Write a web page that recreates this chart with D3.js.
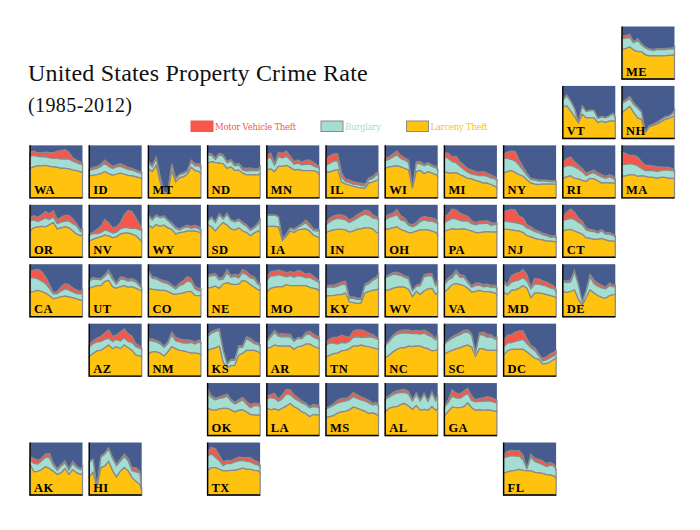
<!DOCTYPE html>
<html>
<head>
<meta charset="utf-8">
<script src="https://cdn.jsdelivr.net/npm/d3@7"></script>
<style>
html,body{margin:0;padding:0;background:#fff}
svg{display:block}
</style>
</head>
<body>
<svg id="chart" width="700" height="530"></svg>
<script>
// Sampled years along each small multiple
const years = [1985,1987,1989,1991,1993,1995,1997,1999,2001,2003,2005,2007,2009,2011,2012];
const seriesNames = ["Larceny Theft","Burglary","Motor Vehicle Theft"];
const seriesColors = ["#fec20f","#a4ddd2","#f6574a"];
// Tile-grid map: one string per row, state codes per column ("" = empty tile)
const tileRows = [
 ["","","","","","","","","","","ME"],
 ["","","","","","","","","","VT","NH"],
 ["WA","ID","MT","ND","MN","IL","WI","MI","NY","RI","MA"],
 ["OR","NV","WY","SD","IA","IN","OH","PA","NJ","CT"],
 ["CA","UT","CO","NE","MO","KY","WV","VA","MD","DE"],
 ["","AZ","NM","KS","AR","TN","NC","SC","DC"],
 ["","","","OK","LA","MS","AL","GA"],
 ["AK","HI","","TX","","","","","FL"]
];
// Rates as index points (each state's panel = 0..100)
const larceny = {
ME:[56,58,61,55,52,52,46,44,44,44,44,44,45,45,47],
VT:[60,62,52,42,29,46,39,39,39,30,33,30,33,33,33],
NH:[49,55,61,49,39,36,11,22,25,27,31,36,38,41,43],
WA:[56,59,61,61,62,60,59,58,56,56,55,53,52,49,49],
ID:[42,43,44,46,50,46,43,45,47,45,43,42,40,38,37],
MT:[55,50,62,30,8,8,52,30,38,40,45,58,52,50,46],
ND:[66,69,67,66,65,56,59,52,53,47,44,44,44,44,46],
MN:[53,55,50,60,60,62,58,53,54,52,52,52,52,49,44],
IL:[49,49,52,54,30,26,24,22,20,19,18,28,30,33,35],
WI:[56,59,60,61,59,56,53,18,50,52,46,50,47,44,41],
MI:[50,47,47,48,44,41,37,36,33,31,28,28,25,22,19],
NY:[47,50,52,48,44,41,34,28,26,25,26,26,26,26,25],
RI:[37,40,42,37,36,33,31,37,36,32,28,29,28,28,28],
MA:[41,42,44,44,41,42,41,39,39,37,39,39,37,37,36],
OR:[50,56,58,59,58,62,66,54,56,58,56,50,44,41,44],
NV:[31,34,37,39,42,41,37,39,44,46,46,44,41,34,29],
WY:[61,56,62,59,61,56,53,44,47,48,50,50,50,48,45],
SD:[62,58,50,59,66,61,54,52,56,50,47,41,46,50,48],
IA:[59,59,59,58,32,40,50,47,52,53,54,50,42,39,37],
IN:[47,50,52,53,53,52,48,50,53,54,56,56,54,47,47],
OH:[53,54,56,58,53,50,47,47,50,52,52,52,50,47,42],
PA:[50,52,54,53,53,54,52,50,47,47,48,49,48,48,48],
NJ:[53,53,52,51,50,47,41,39,36,34,33,31,31,30,29],
CT:[50,52,53,50,47,44,37,36,34,34,36,33,31,31,29],
CA:[47,48,50,48,45,40,34,36,38,39,38,36,34,31,31],
UT:[54,57,59,59,67,69,57,54,57,59,56,57,54,51,48],
CO:[53,52,51,50,50,48,44,42,44,45,48,48,40,40,40],
NE:[54,56,58,54,62,65,62,61,62,69,67,61,56,51,50],
MO:[47,54,56,57,57,61,59,59,59,59,59,56,54,52,49],
KY:[39,40,40,42,42,45,28,27,25,26,45,48,50,51,54],
WV:[50,51,54,56,57,56,52,38,48,42,49,53,54,42,45],
VA:[47,53,61,63,61,59,54,47,48,50,48,48,47,45,42],
MD:[47,42,50,51,54,59,54,36,45,45,44,42,40,38,36],
DE:[48,46,48,51,33,22,36,51,45,40,37,35,40,42,42],
AZ:[37,43,48,49,54,59,52,56,52,59,54,49,40,38,37],
NM:[43,46,46,44,38,46,56,52,49,48,46,44,44,43,41],
KS:[49,52,54,57,26,16,20,20,40,43,49,49,49,46,43],
AR:[52,55,59,57,57,57,57,51,56,57,61,61,57,54,52],
TN:[36,40,43,44,48,49,52,57,57,59,57,56,54,52,51],
NC:[34,40,46,51,54,54,57,56,57,57,54,52,48,49,52],
SC:[42,46,49,52,54,57,59,55,38,52,52,49,49,49,49],
DC:[40,48,51,51,51,51,46,40,34,32,23,24,27,32,34],
OK:[52,49,48,51,52,52,49,45,48,49,45,40,39,39,38],
LA:[52,49,51,48,52,56,61,55,51,45,42,36,40,39,39],
MS:[34,36,38,43,45,46,49,54,52,49,46,42,43,40,37],
AL:[45,52,54,55,59,61,56,50,57,48,50,48,55,48,51],
GA:[37,46,54,53,53,55,62,53,48,49,48,49,48,46,46],
AK:[58,44,45,48,54,50,45,39,42,50,39,48,42,39,41],
HI:[34,43,13,52,55,64,46,34,45,52,46,33,26,20,8],
TX:[47,52,52,49,46,46,47,47,49,51,49,49,47,46,42],
FL:[41,44,46,47,49,47,46,46,43,42,41,39,38,36,32]
};
const burglary = {
ME:[21,20,18,14,22,13,13,12,10,12,12,12,12,12,13],
VT:[12,19,19,15,1,15,12,14,14,8,8,9,10,14,5],
NH:[18,16,15,16,19,14,0,2,2,3,4,4,4,6,10],
WA:[23,22,18,17,16,16,16,17,18,18,19,17,15,15,15],
ID:[10,11,12,14,16,14,13,14,13,12,11,11,10,9,10],
MT:[12,9,12,10,2,2,11,6,6,6,5,10,9,11,11],
ND:[16,12,6,16,14,11,11,9,10,6,7,8,8,8,11],
MN:[21,22,12,19,16,17,15,11,12,11,12,12,9,9,12],
IL:[13,17,18,16,10,5,5,4,5,5,5,6,7,11,9],
WI:[15,14,18,21,16,16,14,1,15,13,15,14,13,13,12],
MI:[28,28,22,19,16,13,12,9,11,11,15,13,13,14,14],
NY:[28,25,21,22,18,12,9,7,8,7,6,6,5,5,5],
RI:[21,21,20,22,19,17,11,9,12,11,12,8,12,9,5],
MA:[23,22,21,20,20,14,11,13,13,13,13,14,16,15,14],
OR:[19,15,10,12,17,10,11,10,11,11,13,14,16,8,7],
NV:[11,11,8,8,10,9,9,9,10,11,10,11,14,18,21],
WY:[18,15,17,16,16,14,10,11,5,8,8,5,7,6,6],
SD:[6,17,16,22,7,21,16,15,14,14,12,10,10,13,21],
IA:[21,21,21,19,2,3,5,5,5,8,12,8,9,11,13],
IN:[15,18,20,21,20,19,18,20,21,25,26,24,21,26,25],
OH:[18,22,22,23,18,19,14,11,11,16,19,17,19,19,22],
PA:[16,18,20,20,17,15,17,14,15,17,16,16,13,14,15],
NJ:[16,15,15,15,14,15,15,14,13,13,10,10,7,9,9],
CT:[20,20,21,22,20,18,15,14,15,12,14,11,13,10,10],
CA:[27,26,22,20,18,14,9,8,11,14,13,11,10,12,15],
UT:[13,15,12,11,10,16,14,8,15,12,12,12,12,7,6],
CO:[33,21,21,18,15,15,14,11,15,17,20,18,13,9,10],
NE:[22,22,21,16,10,19,13,16,12,15,13,13,16,10,11],
MO:[22,24,22,23,21,15,19,16,19,18,15,19,17,15,15],
KY:[17,17,16,16,19,17,7,8,8,7,14,15,19,22,25],
WV:[24,26,27,24,21,19,20,11,10,17,27,25,24,17,23],
VA:[14,17,13,21,14,16,11,9,11,10,9,10,9,12,11],
MD:[17,16,16,17,16,16,14,17,17,17,16,16,15,15,12],
DE:[19,19,18,34,28,6,12,25,18,18,18,18,19,15,16],
AZ:[18,19,17,17,16,13,14,14,15,14,12,15,16,15,14],
NM:[25,21,19,18,17,16,23,15,16,15,17,20,17,22,21],
KS:[26,30,31,30,22,7,10,10,15,12,23,18,13,14,14],
AR:[14,20,24,19,18,18,18,15,16,14,18,19,17,17,18],
TN:[23,23,20,17,16,14,14,17,18,15,17,19,20,19,19],
NC:[24,26,29,29,28,28,25,25,24,23,28,26,27,20,24],
SC:[19,21,23,24,25,26,25,23,6,27,26,25,26,21,22],
DC:[16,15,13,15,17,19,16,14,15,7,6,7,8,7,10],
OK:[30,23,20,20,20,23,17,15,16,19,15,13,18,18,17],
LA:[18,23,20,17,18,23,17,16,16,17,17,17,15,15,13],
MS:[17,18,20,19,19,20,19,20,19,19,20,20,15,20,18],
AL:[24,21,24,26,23,21,23,16,22,18,29,17,26,18,25],
GA:[17,17,21,19,18,21,18,14,16,16,17,17,17,17,16],
AK:[9,16,14,17,18,21,12,8,13,11,8,12,10,9,11],
HI:[29,24,1,20,23,23,23,22,19,21,19,13,18,22,3],
TX:[28,26,20,16,10,14,13,16,16,15,15,14,12,11,11],
FL:[30,29,29,27,25,20,4,26,21,19,17,15,19,19,15]
};
const motor = {
ME:[4,5,6,2,3,3,2,2,2,2,2,2,2,2,2],
VT:[2,2,1,1,0,1,1,1,1,1,1,1,1,1,1],
NH:[2,3,4,3,2,2,0,0,0,1,1,1,1,1,1],
WA:[8,8,7,8,9,10,11,14,16,18,13,6,5,4,4],
ID:[3,4,4,4,6,6,4,4,5,5,4,3,3,3,3],
MT:[3,3,4,2,0,0,2,2,1,2,2,4,4,4,5],
ND:[3,3,3,3,3,2,3,3,3,4,5,5,3,3,3],
MN:[7,8,4,8,9,10,7,5,6,5,8,8,7,4,3],
IL:[12,14,14,14,8,5,5,5,4,4,3,4,4,4,3],
WI:[4,5,6,7,6,5,5,0,4,4,3,3,3,3,2],
MI:[8,10,9,12,9,8,7,8,6,7,7,6,6,4,3],
NY:[9,12,16,18,10,6,4,2,2,2,2,2,2,2,2],
RI:[8,14,16,10,7,6,5,4,5,5,4,4,4,4,3],
MA:[23,20,16,17,17,13,10,10,9,9,7,5,5,4,3],
OR:[6,8,8,10,12,11,12,8,9,11,11,9,4,3,3],
NV:[2,3,8,12,20,16,10,10,12,24,33,32,20,10,4],
WY:[2,2,2,2,2,2,3,3,2,2,3,4,4,4,3],
SD:[2,2,2,2,2,2,2,2,3,3,3,2,2,3,3],
IA:[1,1,1,1,1,1,1,2,2,3,5,6,3,3,3],
IN:[4,7,7,7,8,7,5,5,7,6,8,9,6,4,3],
OH:[6,6,6,10,8,6,3,4,5,7,7,7,6,6,3],
PA:[12,12,18,17,14,12,9,6,4,5,5,5,5,3,3],
NJ:[18,21,24,24,14,13,6,5,4,3,3,3,3,2,3],
CT:[8,14,18,14,8,7,4,3,3,3,3,3,3,3,2],
CA:[12,15,18,18,13,8,3,4,8,10,10,8,7,5,6],
UT:[3,3,2,3,3,4,4,2,4,4,3,4,3,3,3],
CO:[3,3,3,3,4,4,3,3,5,7,8,7,5,5,4],
NE:[3,3,3,3,4,6,4,4,5,6,6,5,4,3,3],
MO:[6,8,9,9,9,8,8,9,10,9,7,8,6,4,3],
KY:[3,3,4,5,5,6,3,3,3,2,3,3,3,3,3],
WV:[2,3,3,5,4,3,3,1,2,3,4,4,4,1,2],
VA:[3,4,5,5,5,4,3,3,5,4,4,4,4,3,3],
MD:[4,4,12,14,14,15,12,3,11,10,9,8,7,5,3],
DE:[3,3,4,3,1,0,2,5,7,6,5,3,5,3,2],
AZ:[4,6,7,10,12,16,10,8,17,17,15,12,6,4,4],
NM:[3,4,3,3,2,3,5,7,6,6,6,4,4,4,3],
KS:[3,3,3,3,2,1,2,2,3,3,3,5,4,3,3],
AR:[2,3,4,4,6,5,5,2,2,2,4,6,6,5,4],
TN:[6,8,11,13,14,13,8,12,13,14,12,7,5,3,3],
NC:[1,2,3,4,5,6,6,5,6,6,6,6,4,2,4],
SC:[1,2,3,3,4,4,4,3,1,3,6,6,4,3,4],
DC:[12,15,15,18,18,16,9,5,5,4,5,6,7,7,5],
OK:[8,4,3,3,4,4,3,3,4,5,5,6,5,4,4],
LA:[5,6,9,5,8,9,9,7,5,4,3,2,5,4,4],
MS:[1,2,3,5,7,5,6,8,7,6,5,5,4,3,2],
AL:[2,3,4,4,5,6,5,2,3,2,2,2,3,2,2],
GA:[1,5,12,9,8,9,10,9,4,6,7,8,8,6,5],
AK:[5,10,7,5,6,8,4,3,3,4,3,4,3,2,3],
HI:[1,1,0,2,2,3,3,3,4,5,5,6,8,3,1],
TX:[7,13,16,11,7,6,5,6,7,5,7,8,7,6,4],
FL:[6,10,10,10,11,8,0,6,6,7,7,6,5,3,2]
};

const svg = d3.select("#chart");
const panelSize = 52.5;
const colScale = d3.scaleLinear().domain([0,10]).range([30,622]);
const rowScale = d3.scaleLinear().domain([0,7]).range([26.5,442.5]);
const x = d3.scaleLinear().domain([1985,2012]).range([0,panelSize]);
const y = d3.scaleLinear().domain([0,100]).range([panelSize,0]);
const color = d3.scaleOrdinal().domain(seriesNames).range(seriesColors);
const stack = d3.stack().keys(seriesNames);
const area = d3.area().x(d=>x(d.data.year)).y0(d=>y(d[0])).y1(d=>y(d[1]));

tileRows.forEach((row,r)=>row.forEach((st,c)=>{
  if(!st) return;
  const rows = years.map((year,i)=>({
    year,
    "Larceny Theft":larceny[st][i],
    "Burglary":burglary[st][i],
    "Motor Vehicle Theft":motor[st][i]
  }));
  const g = svg.append("g").attr("transform",`translate(${colScale(c)},${rowScale(r)})`);
  g.append("rect").attr("width",panelSize).attr("height",panelSize).attr("fill","#465c8f");
  const layers = stack(rows);
  g.selectAll("path.layer").data(layers.slice().reverse()).join("path")
    .attr("class","layer")
    .attr("d",area)
    .attr("fill",d=>color(d.key))
    .attr("stroke","#8a8a8a").attr("stroke-width",1.25);
  g.append("path").attr("d",`M0,0V${panelSize}H${panelSize}`)
    .attr("fill","none").attr("stroke","#000").attr("stroke-width",1.4);
  g.append("text").attr("x",4).attr("y",panelSize-3.5).text(st)
    .attr("font-family","'Liberation Serif',serif").attr("font-weight","bold")
    .attr("font-size",12.5).attr("letter-spacing",0.4).attr("fill","#000");
}));

svg.append("text").attr("x",28).attr("y",81).text("United States Property Crime Rate")
  .attr("font-family","'Liberation Serif',serif").attr("font-size",24).attr("letter-spacing",0.2).attr("fill","#111");
svg.append("text").attr("x",28).attr("y",112).text("(1985-2012)")
  .attr("font-family","'Liberation Serif',serif").attr("font-size",20).attr("letter-spacing",0.4).attr("fill","#111");

const legendX = [191,321,406.5];
const legendOrder = ["Motor Vehicle Theft","Burglary","Larceny Theft"];
legendOrder.forEach((name,i)=>{
  svg.append("rect").attr("x",legendX[i]).attr("y",121).attr("width",22).attr("height",10.5)
    .attr("fill",color(name)).attr("stroke",i===0?color(name):"#8a8a8a").attr("stroke-width",1);
  svg.append("text").attr("x",legendX[i]+24).attr("y",129.5).text(name)
    .attr("font-family","'DejaVu Serif',serif").attr("font-size",8.5).attr("letter-spacing",-0.25)
    .attr("fill",color(name));
});
</script>
</body>
</html>
